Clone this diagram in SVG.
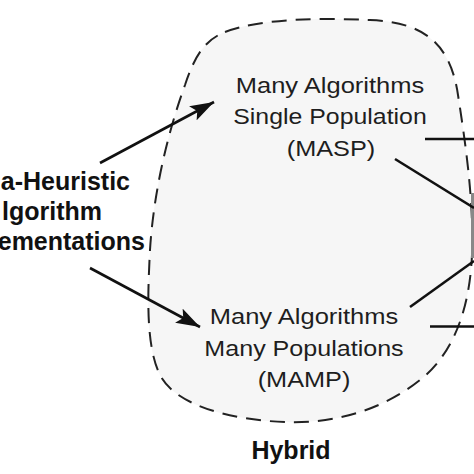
<svg xmlns="http://www.w3.org/2000/svg" width="474" height="474" viewBox="0 0 474 474">
<defs>
<style>
.reg{font-family:"Liberation Sans",Arial,sans-serif;font-size:22px;fill:#1e1e1e;text-anchor:middle}
.bold{font-family:"Liberation Sans",Arial,sans-serif;font-size:25px;font-weight:bold;fill:#111}
.conn{stroke:#111;stroke-width:2.6;fill:none}
</style>
<marker id="head" viewBox="0 0 24 16" refX="24" refY="8" markerWidth="24" markerHeight="16" markerUnits="userSpaceOnUse" orient="auto">
<path d="M0,0 L24,8 L0,16 L5,8 z" fill="#111"/>
</marker>
</defs>
<rect width="474" height="474" fill="#fff"/>
<g id="hybrid">
<path d="M225,32 C262,18 320,18 370,20 C420,22 450,40 458,95 C465,140 474,200 472,255 C470,300 458,350 420,380 C380,412 330,424 285,422 C230,420 175,405 160,375 C145,345 148,290 150,250 C153,200 165,140 185,85 C195,55 205,40 225,32 Z" fill="#f6f6f6" stroke="#222" stroke-width="2" stroke-dasharray="15,9"/>
<text class="bold" x="291" y="459" text-anchor="middle" font-size="24.5">Hybrid</text>
</g>
<g id="masp">
<text class="reg" transform="translate(330,93) scale(1.16,1)">Many Algorithms</text>
<text class="reg" transform="translate(330,124) scale(1.13,1)">Single Population</text>
<text class="reg" transform="translate(331,156) scale(1.15,1)">(MASP)</text>
</g>
<g id="mamp">
<text class="reg" transform="translate(304,324) scale(1.16,1)">Many Algorithms</text>
<text class="reg" transform="translate(304,356) scale(1.14,1)">Many Populations</text>
<text class="reg" transform="translate(304,387) scale(1.15,1)">(MAMP)</text>
</g>
<g id="meta">
<text class="bold" x="130" y="190" text-anchor="end">a-Heuristic</text>
<text class="bold" x="102" y="220" text-anchor="end">lgorithm</text>
<text class="bold" x="145" y="250" text-anchor="end" font-size="22.5">ementations</text>
</g>
<g id="right-box">
<line x1="472.5" y1="193" x2="472.5" y2="258" stroke="#888" stroke-width="3"/>
</g>
<g id="connectors">
<line class="conn" x1="100" y1="163" x2="214" y2="102" marker-end="url(#head)"/>
<line class="conn" x1="90" y1="268" x2="200" y2="327" marker-end="url(#head)"/>
<line class="conn" x1="395" y1="159" x2="474" y2="208"/>
<line class="conn" x1="410" y1="307" x2="474" y2="261"/>
<line class="conn" x1="425" y1="139" x2="474" y2="139"/>
<line class="conn" x1="430" y1="326.5" x2="474" y2="326.5"/>
</g>
</svg>
